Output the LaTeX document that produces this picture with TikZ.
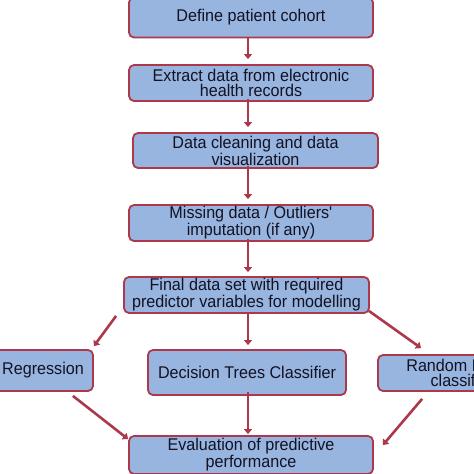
\documentclass[tikz,border=0pt]{standalone}
\usepackage{fontspec}
\setmainfont{Liberation Sans}[FakeStretch=0.95]
\usetikzlibrary{arrows.meta}
\definecolor{boxfill}{RGB}{152,181,223}
\definecolor{edgered}{RGB}{172,56,76}
\definecolor{txt}{RGB}{18,18,36}
\begin{document}
\begin{tikzpicture}[x=1pt,y=-1pt,
  flowbox/.style={draw=edgered, line width=1.8pt, fill=boxfill, rounded corners=5pt,
    align=center, text=txt, inner sep=0pt,
    font=\fontsize{17}{14.5}\selectfont},
  flowarrow/.style={draw=edgered, line width=2.6pt,
    -{Triangle[width=8pt,length=5pt]}}]
\useasboundingbox (0,0) rectangle (474,474);
\begin{scope}
\clip (0,0) rectangle (474,474);
\node[flowbox, minimum width=244pt, minimum height=40pt] (b1) at (251,17.5) {Define patient cohort};
\node[flowbox, minimum width=244pt, minimum height=36pt] (b2) at (251,83) {Extract data from electronic\\health records};
\node[flowbox, minimum width=245pt, minimum height=35pt] (b3) at (255.5,150.5) {Data cleaning and data\\visualization};
\node[flowbox, minimum width=244pt, minimum height=36pt] (b4) at (251,223) {Missing data / Outliers\textquotesingle\\imputation (if any)};
\node[flowbox, minimum width=245pt, minimum height=36pt] (b5) at (246.5,295) {Final data set with required\\predictor variables for modelling};
\node[flowbox, minimum width=100pt, minimum height=41pt] (reg) at (43,370.5) {Regression};
\node[flowbox, minimum width=198pt, minimum height=45pt] (dt) at (247,372.5) {Decision Trees Classifier};
\node[flowbox, minimum width=168pt, minimum height=36pt] (rf) at (462,373) {Random Forest\\classifier};
\node[flowbox, minimum width=244pt, minimum height=38pt] (ev) at (251,455) {Evaluation of predictive\\performance};

\draw[flowarrow] ([xshift=-3pt]b1.south) -- ([xshift=-3pt,yshift=5pt]b2.north);
\draw[flowarrow] ([xshift=-3pt,yshift=3pt]b2.south) -- ([xshift=-7.5pt,yshift=5pt]b3.north);
\draw[flowarrow] ([xshift=-7.5pt,yshift=3pt]b3.south) -- ([xshift=-3pt,yshift=5pt]b4.north);
\draw[flowarrow] ([xshift=-3pt,yshift=3pt]b4.south) -- ([xshift=1.5pt,yshift=4pt]b5.north);
\draw[flowarrow] ([shift={(-7,2)}]b5.south west) -- ([shift={(0,-3)}]reg.north east);
\draw[flowarrow] ([xshift=1.5pt]b5.south) -- ([xshift=1pt,yshift=4pt]dt.north);
\draw[flowarrow] ([shift={(-1,-3)}]b5.south east) -- ([shift={(44,-6)}]rf.north west);
\draw[flowarrow] ([shift={(-21,4)}]reg.south east) -- ([shift={(0,4)}]ev.north west);
\draw[flowarrow] ([xshift=1pt,yshift=4pt]dt.south) -- ([xshift=-3pt,yshift=1pt]ev.north);
\draw[flowarrow] ([shift={(45,7)}]rf.south west) -- ([shift={(9,-10)}]ev.east);
\end{scope}
\end{tikzpicture}
\end{document}
